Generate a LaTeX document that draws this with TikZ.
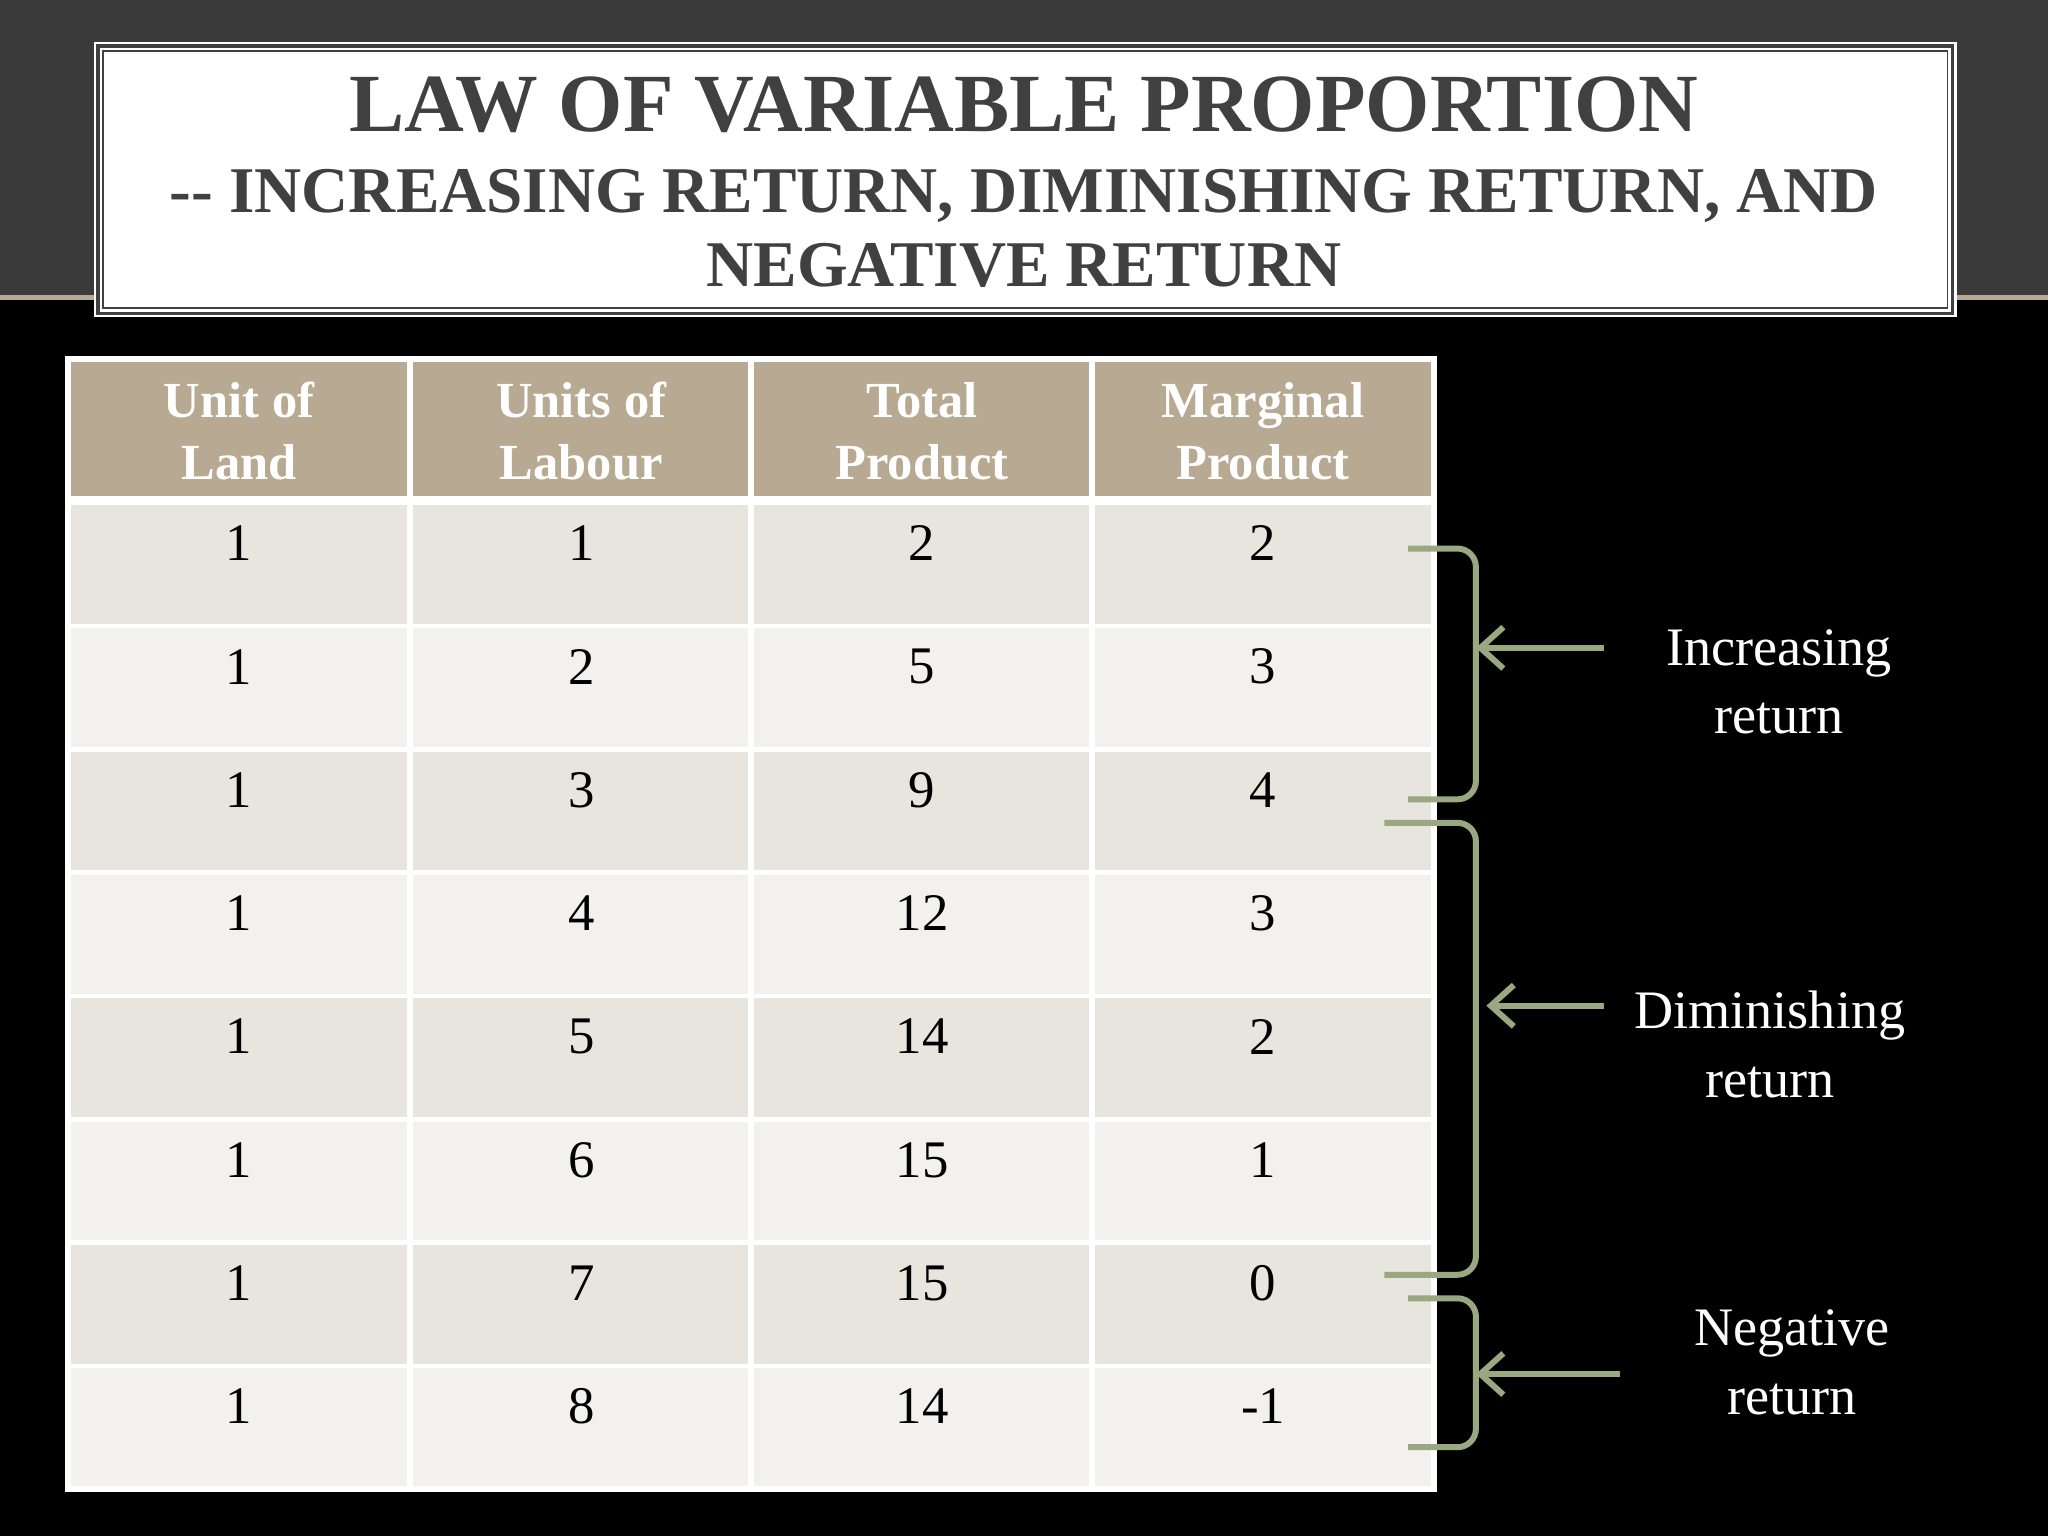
\documentclass[tikz,border=0pt]{standalone}
\usepackage{fontspec}
\setmainfont{Liberation Serif}
\usetikzlibrary{arrows.meta}
\definecolor{band}{HTML}{3A3A3A}
\definecolor{ttl}{HTML}{404040}
\definecolor{hdr}{HTML}{B8AA92}
\definecolor{rowa}{HTML}{E8E4DE}
\definecolor{rowb}{HTML}{F2F1ED}
\definecolor{brk}{HTML}{9AA882}
\tikzset{x=0.01cm,y=-0.01cm,
 hd/.style={text=white,font=\fontsize{11}{13.5}\selectfont\bfseries,align=center},
 num/.style={text=black,font=\fontsize{11.5}{14}\selectfont},
 lbl/.style={text=white,font=\fontsize{11.8}{15}\selectfont,align=center},
 br/.style={draw=brk,line width=1.3pt,rounded corners=4pt},
 ar/.style={draw=brk,line width=1.3pt,-{Straight Barb[length=5pt,width=9pt]}}}
\begin{document}
\begin{tikzpicture}
\useasboundingbox (0,0) rectangle (1568,1176);
\fill[black] (0,0) rectangle (1568,1176);
\fill[band] (0,0) rectangle (1568,228);
\draw[hdr,line width=1pt] (0,228) -- (1568,228);
\fill[white] (72,32) rectangle (1498,243);
\draw[ttl,line width=0.8pt] (75,35) rectangle (1495,240);
\draw[ttl,line width=0.4pt] (79,39) rectangle (1491,236);
\node[text=ttl,font=\fontsize{18}{22}\selectfont\bfseries] (t1) at (784,80) {LAW OF VARIABLE PROPORTION};
\node[text=ttl,font=\fontsize{14.2}{16}\selectfont\bfseries,align=center] (t2) at (784,175) {{-}{-} INCREASING RETURN, DIMINISHING RETURN, AND\\NEGATIVE RETURN};
% table
\fill[hdr] (52,275) rectangle (1098,382);
\foreach \i in {0,...,7}{
 \pgfmathsetmacro{\ya}{385+\i*94.4}
 \pgfmathsetmacro{\yb}{385+(\i+1)*94.4}
 \ifodd\i \fill[rowb] (52,\ya) rectangle (1098,\yb); \else \fill[rowa] (52,\ya) rectangle (1098,\yb); \fi
 \draw[white,line width=1pt] (52,\ya) -- (1098,\ya);
}
\draw[white,line width=1.2pt] (52,275) rectangle (1098,1140);
\draw[white,line width=2pt] (52,383) -- (1098,383);
\foreach \x in {314,575,836} \draw[white,line width=1.2pt] (\x,275) -- (\x,1140);
\node[hd] (h1) at (183,330) {Unit of\\Land};
\node[hd] (h2) at (445,330) {Units of\\Labour};
\node[hd] (h3) at (706,330) {Total\\Product};
\node[hd] (h4) at (967,330) {Marginal\\Product};
\foreach \a/\b/\c/\d [count=\i from 0] in {1/1/2/2,1/2/5/3,1/3/9/4,1/4/12/3,1/5/14/2,1/6/15/1,1/7/15/0,1/8/14/-1}{
 \pgfmathsetmacro{\y}{416+\i*94.4}
 \node[num] at (183,\y) {\a};
 \node[num] at (445,\y) {\b};
 \node[num] at (706,\y) {\c};
 \node[num] at (967,\y) {\d};
}
% brackets
\draw[br] (1078,420) -- (1130,420) -- (1130,612) -- (1078,612);
\draw[br] (1060,630) -- (1130,630) -- (1130,976) -- (1060,976);
\draw[br] (1078,994) -- (1130,994) -- (1130,1108) -- (1078,1108);
\coordinate (b1) at (1130,496); \coordinate (b2) at (1138,770); \coordinate (b3) at (1130,1052);
\coordinate (s1) at (1228,496); \coordinate (s2) at (1228,770); \coordinate (s3) at (1240,1052);
\draw[ar] (s1) -- (b1); \draw[ar] (s2) -- (b2); \draw[ar] (s3) -- (b3);
\node[lbl] (l1) at (1362,522) {Increasing\\return};
\node[lbl] (l2) at (1355,800) {Diminishing\\return};
\node[lbl] (l3) at (1372,1043) {Negative\\return};
\end{tikzpicture}
\end{document}
